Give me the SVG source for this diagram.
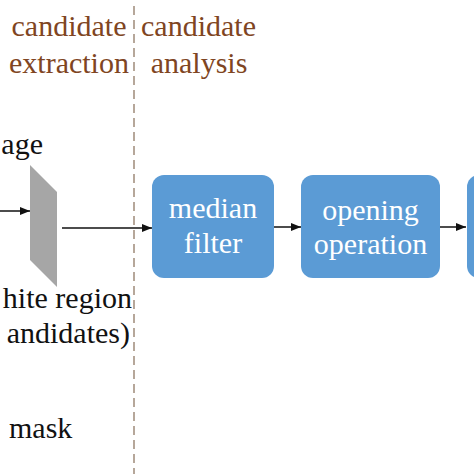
<svg xmlns="http://www.w3.org/2000/svg" width="474" height="474" viewBox="0 0 474 474">
<style>
.t{font-family:"Liberation Serif","Times New Roman",serif;font-size:30px}
.br{fill:#7F4522}
.bk{fill:#111}
.wh{fill:#fff}
.box{fill:#5B9BD5}
.ln{stroke:#111;stroke-width:1.5;fill:none}
</style>
<defs>
<marker id="ah" markerWidth="10" markerHeight="8" refX="10" refY="4" orient="auto" markerUnits="userSpaceOnUse">
<path d="M0,0 L10,4 L0,8 z" fill="#111"/>
</marker>
</defs>
<rect width="474" height="474" fill="#fff"/>
<g id="divider">
<line x1="134" y1="6" x2="134" y2="474" stroke="#9E8A7A" stroke-width="1.5" stroke-dasharray="9,5"/>
</g>
<g id="headers">
<text class="t br" x="69" y="36" text-anchor="middle">candidate</text>
<text class="t br" x="69" y="73" text-anchor="middle">extraction</text>
<text class="t br" x="198.5" y="36" text-anchor="middle">candidate</text>
<text class="t br" x="199" y="73" text-anchor="middle">analysis</text>
</g>
<g id="labels">
<text class="t bk" x="43" y="154" text-anchor="end">age</text>
<text class="t bk" x="132" y="308" text-anchor="end">hite region</text>
<text class="t bk" x="130" y="343" text-anchor="end">andidates)</text>
<text class="t bk" x="9" y="438">mask</text>
</g>
<g id="mask-shape">
<polygon points="30,165 57,192 57,287 30,260" fill="#A6A6A6"/>
</g>
<g id="median-filter">
<rect class="box" x="152" y="175" width="122" height="103" rx="12"/>
<text class="t wh" x="213" y="218" text-anchor="middle">median</text>
<text class="t wh" x="213" y="253" text-anchor="middle">filter</text>
</g>
<g id="opening-operation">
<rect class="box" x="301" y="175" width="139" height="103" rx="12"/>
<text class="t wh" x="370.5" y="220" text-anchor="middle">opening</text>
<text class="t wh" x="370.5" y="254" text-anchor="middle">operation</text>
</g>
<g id="next-box">
<rect class="box" x="467" y="175" width="30" height="103" rx="12"/>
</g>
<g id="connectors">
<line class="ln" x1="0" y1="211" x2="30" y2="211" marker-end="url(#ah)"/>
<line class="ln" x1="62" y1="228" x2="152" y2="228" marker-end="url(#ah)"/>
<line class="ln" x1="274" y1="227" x2="301" y2="227" marker-end="url(#ah)"/>
<line class="ln" x1="440" y1="227" x2="466" y2="227" marker-end="url(#ah)"/>
</g>
</svg>
